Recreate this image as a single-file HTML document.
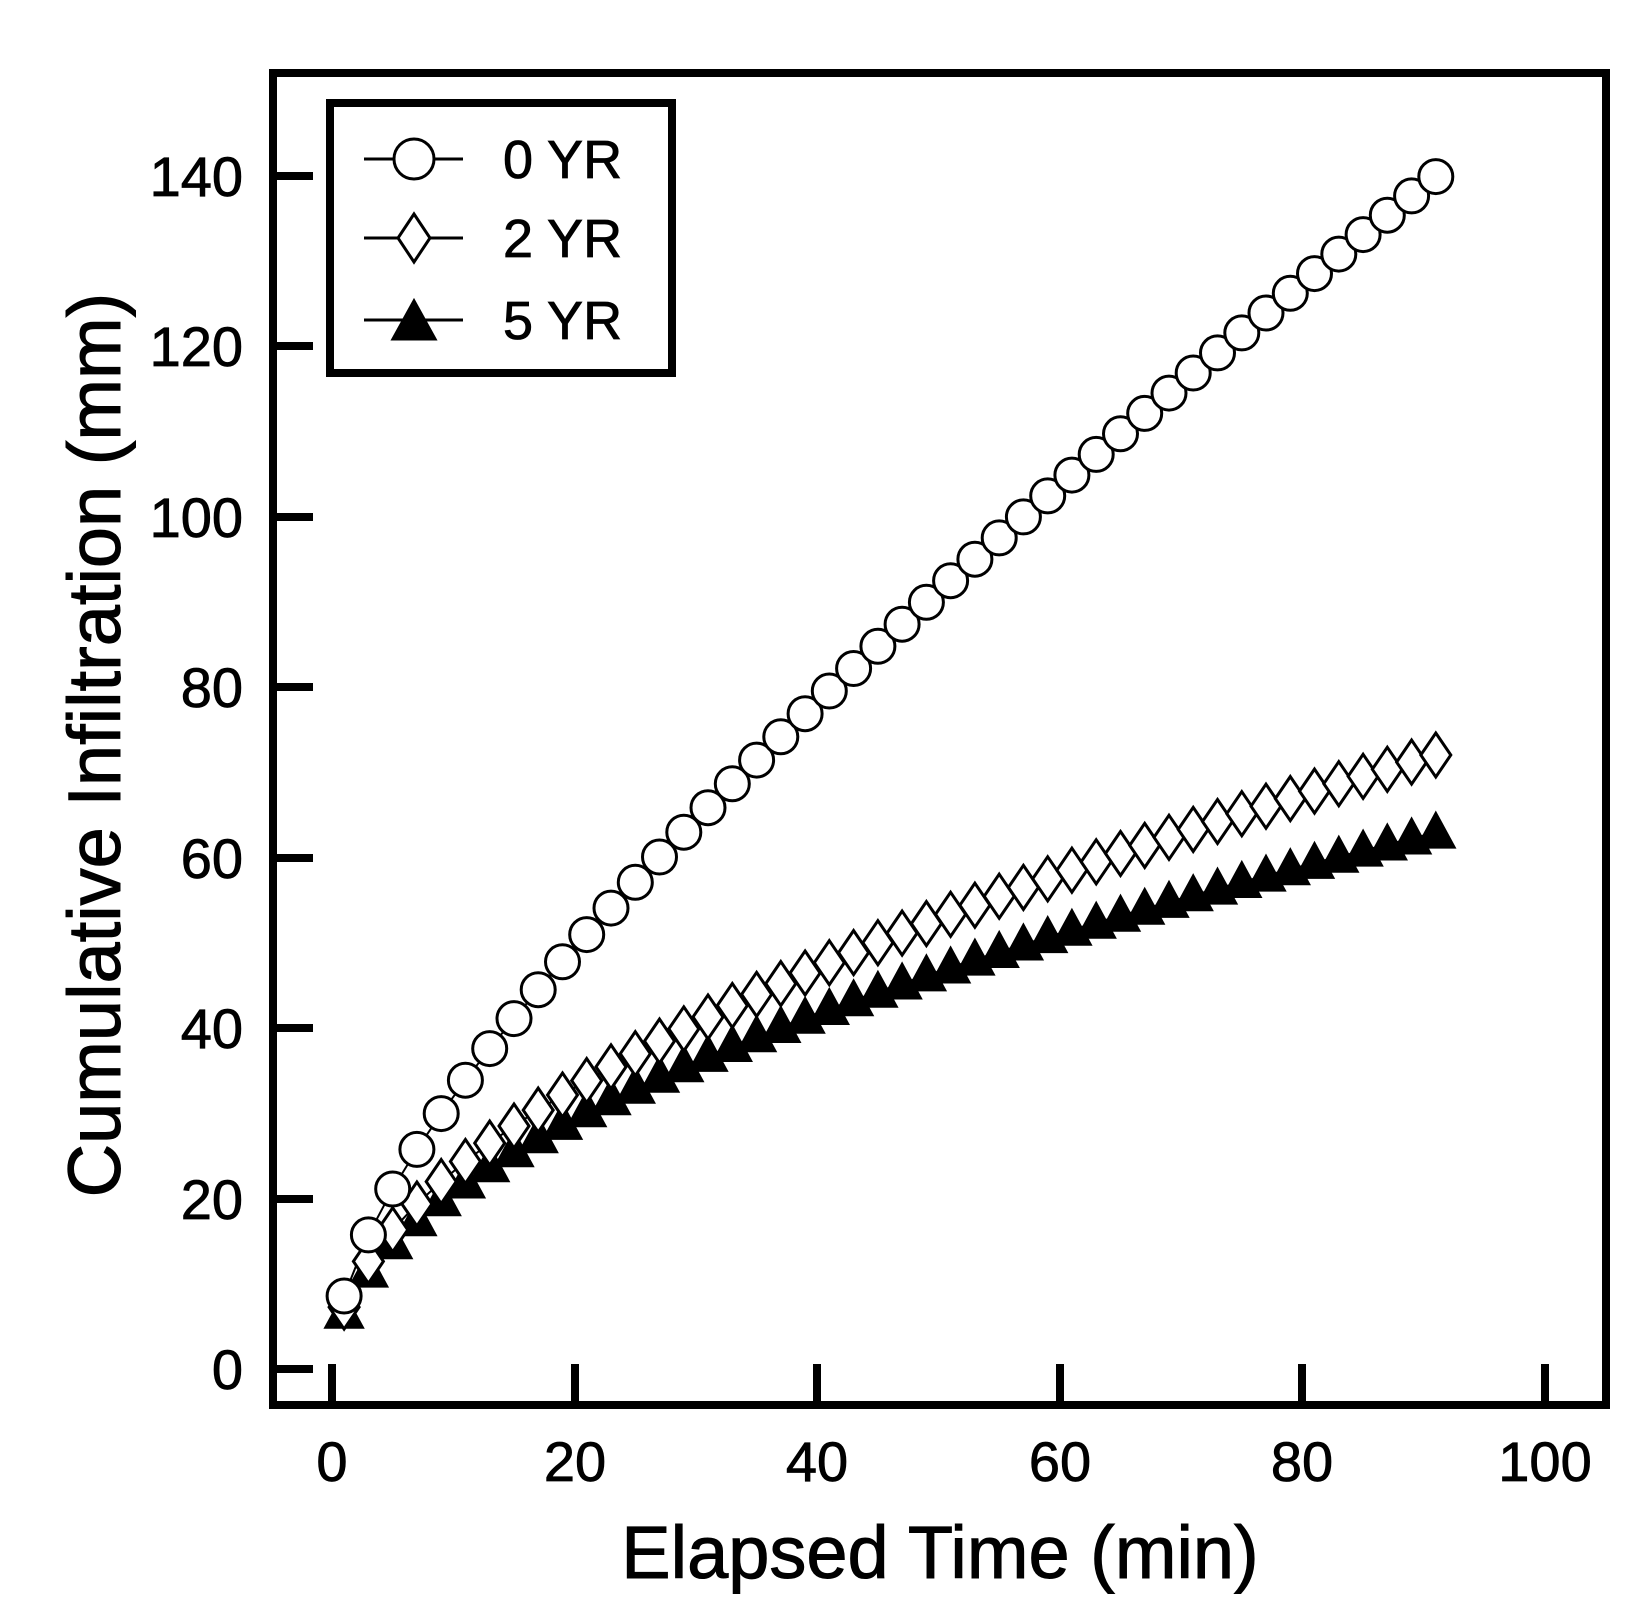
<!DOCTYPE html>
<html><head><meta charset="utf-8"><style>body{margin:0;background:#fff}svg{display:block}</style></head>
<body>
<svg width="1649" height="1608" viewBox="0 0 1649 1608" xmlns="http://www.w3.org/2000/svg" xmlns:xlink="http://www.w3.org/1999/xlink" font-family="Liberation Sans, Arial, sans-serif">
<defs>
<circle id="mc" cx="0" cy="0" r="17" fill="#fff" stroke="#000" stroke-width="3"/>
<polygon id="md" points="0,-22 15,0 0,22 -15,0" fill="#fff" stroke="#000" stroke-width="3"/>
<polygon id="mt" points="0,-20 19,15 -19,15" fill="#000" stroke="#000" stroke-width="2"/>
</defs>
<rect width="1649" height="1608" fill="#fff"/>
<g fill="none" stroke="#000" stroke-width="2">
<polyline points="344.1,1312.8 368.4,1271.6 392.7,1243.3 416.9,1220.2 441.2,1200.3 465.4,1182.5 489.7,1166.2 514,1151.2 538.2,1137.2 562.5,1123.9 586.7,1111.3 611,1099.3 635.3,1087.8 659.5,1076.8 683.8,1066.2 708,1055.9 732.3,1046 756.6,1036.3 780.8,1027 805.1,1017.8 829.3,1009 853.6,1000.3 877.9,991.8 902.1,983.5 926.4,975.4 950.6,967.5 974.9,959.6 999.2,952 1023.4,944.5 1047.7,937.1 1071.9,929.8 1096.2,922.7 1120.5,915.7 1144.7,908.8 1169,901.9 1193.2,895.2 1217.5,888.6 1241.8,882 1266,875.6 1290.3,869.2 1314.5,862.9 1338.8,856.7 1363.1,850.6 1387.3,844.5 1411.6,838.5 1435.8,832.6"/>
<polyline points="344.1,1307.1 368.4,1261.4 392.7,1229.8 416.9,1204 441.2,1181.6 465.4,1161.5 489.7,1143.1 514,1126 538.2,1110.1 562.5,1095 586.7,1080.6 611,1066.9 635.3,1053.7 659.5,1041.1 683.8,1028.9 708,1017 732.3,1005.5 756.6,994.4 780.8,983.6 805.1,973 829.3,962.7 853.6,952.6 877.9,942.7 902.1,933.1 926.4,923.6 950.6,914.3 974.9,905.2 999.2,896.2 1023.4,887.4 1047.7,878.8 1071.9,870.2 1096.2,861.8 1120.5,853.5 1144.7,845.4 1169,837.3 1193.2,829.4 1217.5,821.5 1241.8,813.7 1266,806.2 1290.3,798.6 1314.5,791.1 1338.8,783.7 1363.1,776.3 1387.3,769.3 1411.6,762.1 1435.8,755"/>
<polyline points="344.1,1296 368.4,1234.9 392.7,1189 416.9,1149.4 441.2,1113.6 465.4,1080.2 489.7,1048.6 514,1018.6 538.2,989.7 562.5,961.8 586.7,934.6 611,908.1 635.3,882.3 659.5,857 683.8,832.2 708,807.7 732.3,783.8 756.6,760.1 780.8,736.8 805.1,713.7 829.3,691 853.6,668.5 877.9,646.3 902.1,624.2 926.4,602.3 950.6,580.7 974.9,559.2 999.2,537.9 1023.4,516.9 1047.7,495.9 1071.9,475.1 1096.2,454.4 1120.5,433.8 1144.7,413.4 1169,393.1 1193.2,373 1217.5,352.9 1241.8,332.9 1266,313 1290.3,293.3 1314.5,273.6 1338.8,254.1 1363.1,234.6 1387.3,215.2 1411.6,195.9 1435.8,176.6"/>
</g>
<g>
<use xlink:href="#mt" x="344.1" y="1312.8"/><use xlink:href="#mt" x="368.4" y="1271.6"/><use xlink:href="#mt" x="392.7" y="1243.3"/><use xlink:href="#mt" x="416.9" y="1220.2"/><use xlink:href="#mt" x="441.2" y="1200.3"/><use xlink:href="#mt" x="465.4" y="1182.5"/><use xlink:href="#mt" x="489.7" y="1166.2"/><use xlink:href="#mt" x="514" y="1151.2"/><use xlink:href="#mt" x="538.2" y="1137.2"/><use xlink:href="#mt" x="562.5" y="1123.9"/><use xlink:href="#mt" x="586.7" y="1111.3"/><use xlink:href="#mt" x="611" y="1099.3"/><use xlink:href="#mt" x="635.3" y="1087.8"/><use xlink:href="#mt" x="659.5" y="1076.8"/><use xlink:href="#mt" x="683.8" y="1066.2"/><use xlink:href="#mt" x="708" y="1055.9"/><use xlink:href="#mt" x="732.3" y="1046"/><use xlink:href="#mt" x="756.6" y="1036.3"/><use xlink:href="#mt" x="780.8" y="1027"/><use xlink:href="#mt" x="805.1" y="1017.8"/><use xlink:href="#mt" x="829.3" y="1009"/><use xlink:href="#mt" x="853.6" y="1000.3"/><use xlink:href="#mt" x="877.9" y="991.8"/><use xlink:href="#mt" x="902.1" y="983.5"/><use xlink:href="#mt" x="926.4" y="975.4"/><use xlink:href="#mt" x="950.6" y="967.5"/><use xlink:href="#mt" x="974.9" y="959.6"/><use xlink:href="#mt" x="999.2" y="952"/><use xlink:href="#mt" x="1023.4" y="944.5"/><use xlink:href="#mt" x="1047.7" y="937.1"/><use xlink:href="#mt" x="1071.9" y="929.8"/><use xlink:href="#mt" x="1096.2" y="922.7"/><use xlink:href="#mt" x="1120.5" y="915.7"/><use xlink:href="#mt" x="1144.7" y="908.8"/><use xlink:href="#mt" x="1169" y="901.9"/><use xlink:href="#mt" x="1193.2" y="895.2"/><use xlink:href="#mt" x="1217.5" y="888.6"/><use xlink:href="#mt" x="1241.8" y="882"/><use xlink:href="#mt" x="1266" y="875.6"/><use xlink:href="#mt" x="1290.3" y="869.2"/><use xlink:href="#mt" x="1314.5" y="862.9"/><use xlink:href="#mt" x="1338.8" y="856.7"/><use xlink:href="#mt" x="1363.1" y="850.6"/><use xlink:href="#mt" x="1387.3" y="844.5"/><use xlink:href="#mt" x="1411.6" y="838.5"/><use xlink:href="#mt" x="1435.8" y="832.6"/>
</g>
<g>
<use xlink:href="#md" x="344.1" y="1307.1"/><use xlink:href="#md" x="368.4" y="1261.4"/><use xlink:href="#md" x="392.7" y="1229.8"/><use xlink:href="#md" x="416.9" y="1204"/><use xlink:href="#md" x="441.2" y="1181.6"/><use xlink:href="#md" x="465.4" y="1161.5"/><use xlink:href="#md" x="489.7" y="1143.1"/><use xlink:href="#md" x="514" y="1126"/><use xlink:href="#md" x="538.2" y="1110.1"/><use xlink:href="#md" x="562.5" y="1095"/><use xlink:href="#md" x="586.7" y="1080.6"/><use xlink:href="#md" x="611" y="1066.9"/><use xlink:href="#md" x="635.3" y="1053.7"/><use xlink:href="#md" x="659.5" y="1041.1"/><use xlink:href="#md" x="683.8" y="1028.9"/><use xlink:href="#md" x="708" y="1017"/><use xlink:href="#md" x="732.3" y="1005.5"/><use xlink:href="#md" x="756.6" y="994.4"/><use xlink:href="#md" x="780.8" y="983.6"/><use xlink:href="#md" x="805.1" y="973"/><use xlink:href="#md" x="829.3" y="962.7"/><use xlink:href="#md" x="853.6" y="952.6"/><use xlink:href="#md" x="877.9" y="942.7"/><use xlink:href="#md" x="902.1" y="933.1"/><use xlink:href="#md" x="926.4" y="923.6"/><use xlink:href="#md" x="950.6" y="914.3"/><use xlink:href="#md" x="974.9" y="905.2"/><use xlink:href="#md" x="999.2" y="896.2"/><use xlink:href="#md" x="1023.4" y="887.4"/><use xlink:href="#md" x="1047.7" y="878.8"/><use xlink:href="#md" x="1071.9" y="870.2"/><use xlink:href="#md" x="1096.2" y="861.8"/><use xlink:href="#md" x="1120.5" y="853.5"/><use xlink:href="#md" x="1144.7" y="845.4"/><use xlink:href="#md" x="1169" y="837.3"/><use xlink:href="#md" x="1193.2" y="829.4"/><use xlink:href="#md" x="1217.5" y="821.5"/><use xlink:href="#md" x="1241.8" y="813.7"/><use xlink:href="#md" x="1266" y="806.2"/><use xlink:href="#md" x="1290.3" y="798.6"/><use xlink:href="#md" x="1314.5" y="791.1"/><use xlink:href="#md" x="1338.8" y="783.7"/><use xlink:href="#md" x="1363.1" y="776.3"/><use xlink:href="#md" x="1387.3" y="769.3"/><use xlink:href="#md" x="1411.6" y="762.1"/><use xlink:href="#md" x="1435.8" y="755"/>
</g>
<g>
<use xlink:href="#mc" x="344.1" y="1296"/><use xlink:href="#mc" x="368.4" y="1234.9"/><use xlink:href="#mc" x="392.7" y="1189"/><use xlink:href="#mc" x="416.9" y="1149.4"/><use xlink:href="#mc" x="441.2" y="1113.6"/><use xlink:href="#mc" x="465.4" y="1080.2"/><use xlink:href="#mc" x="489.7" y="1048.6"/><use xlink:href="#mc" x="514" y="1018.6"/><use xlink:href="#mc" x="538.2" y="989.7"/><use xlink:href="#mc" x="562.5" y="961.8"/><use xlink:href="#mc" x="586.7" y="934.6"/><use xlink:href="#mc" x="611" y="908.1"/><use xlink:href="#mc" x="635.3" y="882.3"/><use xlink:href="#mc" x="659.5" y="857"/><use xlink:href="#mc" x="683.8" y="832.2"/><use xlink:href="#mc" x="708" y="807.7"/><use xlink:href="#mc" x="732.3" y="783.8"/><use xlink:href="#mc" x="756.6" y="760.1"/><use xlink:href="#mc" x="780.8" y="736.8"/><use xlink:href="#mc" x="805.1" y="713.7"/><use xlink:href="#mc" x="829.3" y="691"/><use xlink:href="#mc" x="853.6" y="668.5"/><use xlink:href="#mc" x="877.9" y="646.3"/><use xlink:href="#mc" x="902.1" y="624.2"/><use xlink:href="#mc" x="926.4" y="602.3"/><use xlink:href="#mc" x="950.6" y="580.7"/><use xlink:href="#mc" x="974.9" y="559.2"/><use xlink:href="#mc" x="999.2" y="537.9"/><use xlink:href="#mc" x="1023.4" y="516.9"/><use xlink:href="#mc" x="1047.7" y="495.9"/><use xlink:href="#mc" x="1071.9" y="475.1"/><use xlink:href="#mc" x="1096.2" y="454.4"/><use xlink:href="#mc" x="1120.5" y="433.8"/><use xlink:href="#mc" x="1144.7" y="413.4"/><use xlink:href="#mc" x="1169" y="393.1"/><use xlink:href="#mc" x="1193.2" y="373"/><use xlink:href="#mc" x="1217.5" y="352.9"/><use xlink:href="#mc" x="1241.8" y="332.9"/><use xlink:href="#mc" x="1266" y="313"/><use xlink:href="#mc" x="1290.3" y="293.3"/><use xlink:href="#mc" x="1314.5" y="273.6"/><use xlink:href="#mc" x="1338.8" y="254.1"/><use xlink:href="#mc" x="1363.1" y="234.6"/><use xlink:href="#mc" x="1387.3" y="215.2"/><use xlink:href="#mc" x="1411.6" y="195.9"/><use xlink:href="#mc" x="1435.8" y="176.6"/>
</g>
<rect x="273" y="73" width="1333" height="1332" fill="none" stroke="#000" stroke-width="8"/>
<g stroke="#000" stroke-width="8">
<line x1="273" y1="1369" x2="313" y2="1369"/><line x1="273" y1="1199" x2="313" y2="1199"/>
<line x1="273" y1="1028" x2="313" y2="1028"/><line x1="273" y1="858" x2="313" y2="858"/>
<line x1="273" y1="687" x2="313" y2="687"/><line x1="273" y1="517" x2="313" y2="517"/>
<line x1="273" y1="346" x2="313" y2="346"/><line x1="273" y1="176" x2="313" y2="176"/>
<line x1="332" y1="1405" x2="332" y2="1364"/><line x1="575" y1="1405" x2="575" y2="1364"/>
<line x1="817" y1="1405" x2="817" y2="1364"/><line x1="1060" y1="1405" x2="1060" y2="1364"/>
<line x1="1302" y1="1405" x2="1302" y2="1364"/><line x1="1545" y1="1405" x2="1545" y2="1364"/>
</g>
<g font-size="56" text-anchor="end" stroke="#000" stroke-width="0.8">
<text x="243" y="1389">0</text><text x="243" y="1219">20</text><text x="243" y="1048">40</text>
<text x="243" y="878">60</text><text x="243" y="707">80</text><text x="243" y="537">100</text>
<text x="243" y="366">120</text><text x="243" y="196">140</text>
</g>
<g font-size="56" text-anchor="middle" stroke="#000" stroke-width="0.8">
<text x="332" y="1481">0</text><text x="575" y="1481">20</text><text x="817" y="1481">40</text>
<text x="1060" y="1481">60</text><text x="1302" y="1481">80</text><text x="1545" y="1481">100</text>
</g>
<text x="940" y="1578" font-size="74" text-anchor="middle" stroke="#000" stroke-width="1">Elapsed Time (min)</text>
<text transform="translate(120,745) rotate(-90)" font-size="74" text-anchor="middle" stroke="#000" stroke-width="1">Cumulative Infiltration (mm)</text>
<rect x="330" y="103" width="342" height="270" fill="#fff" stroke="#000" stroke-width="8"/>
<g stroke="#000" stroke-width="3">
<line x1="364" y1="159" x2="463" y2="159"/><line x1="364" y1="238" x2="463" y2="238"/><line x1="364" y1="320" x2="463" y2="320"/>
<circle cx="414" cy="159" r="20" fill="#fff"/>
<polygon points="414,214 430,238 414,262 398,238" fill="#fff"/>
<polygon points="414,301 435,339 393,339" fill="#000"/>
</g>
<g font-size="54" stroke="#000" stroke-width="0.8"><text x="503" y="178">0 YR</text><text x="503" y="257">2 YR</text><text x="503" y="339">5 YR</text></g>
</svg>
</body></html>
